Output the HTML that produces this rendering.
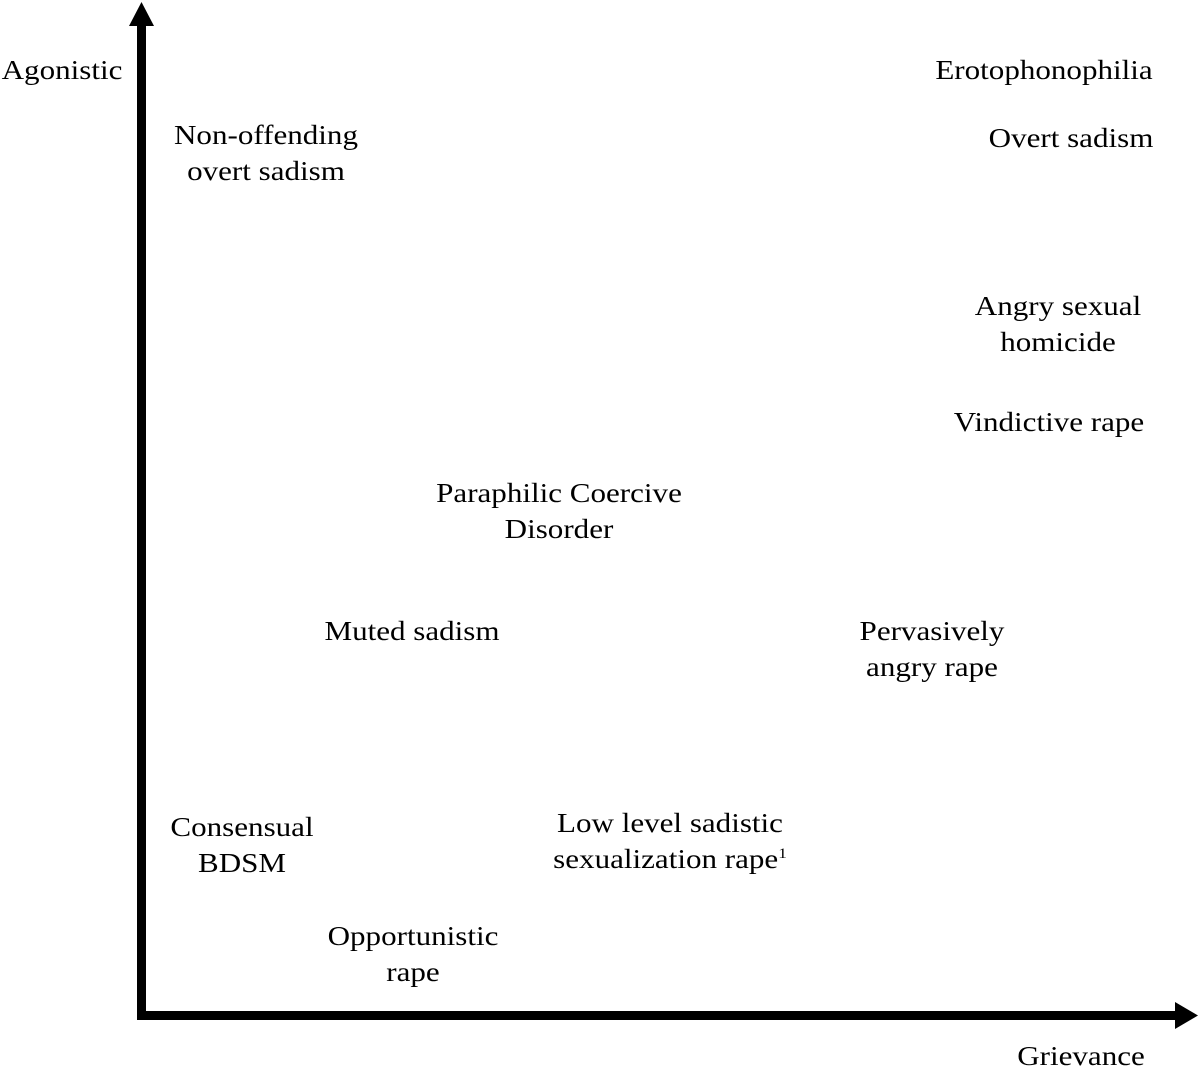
<!DOCTYPE html>
<html><head><style>
body{margin:0;width:1200px;height:1077px;background:#fff;position:relative;overflow:hidden;font-family:"Liberation Serif",serif;font-size:27px;color:#000}
.t{position:absolute;line-height:36px;white-space:nowrap;text-align:center;transform:translateX(-50%) scaleX(1.15);transform-origin:center}
sup{font-size:15px;vertical-align:10px;line-height:0}
</style></head><body>
<svg width="1200" height="1077" style="position:absolute;left:0;top:0">
<rect x="137" y="22" width="9" height="997" fill="#000"/>
<polygon points="141.5,2 129,26 154,26" fill="#000"/>
<rect x="137" y="1011" width="1042" height="9" fill="#000"/>
<polygon points="1198,1015.5 1175,1002 1175,1029" fill="#000"/>
</svg>
<div class="t" style="left:62px;top:52px">Agonistic</div>
<div class="t" style="left:1044px;top:52px">Erotophonophilia</div>
<div class="t" style="left:1071px;top:120px">Overt sadism</div>
<div class="t" style="left:266px;top:117px">Non-offending<br>overt sadism</div>
<div class="t" style="left:1058px;top:288px">Angry sexual<br>homicide</div>
<div class="t" style="left:1049px;top:404px">Vindictive rape</div>
<div class="t" style="left:559px;top:475px">Paraphilic Coercive<br>Disorder</div>
<div class="t" style="left:412px;top:613px">Muted sadism</div>
<div class="t" style="left:932px;top:613px">Pervasively<br>angry rape</div>
<div class="t" style="left:242px;top:809px">Consensual<br>BDSM</div>
<div class="t" style="left:670px;top:805px">Low level sadistic<br>sexualization rape<sup>1</sup></div>
<div class="t" style="left:413px;top:918px">Opportunistic<br>rape</div>
<div class="t" style="left:1081px;top:1038px">Grievance</div>
</body></html>
